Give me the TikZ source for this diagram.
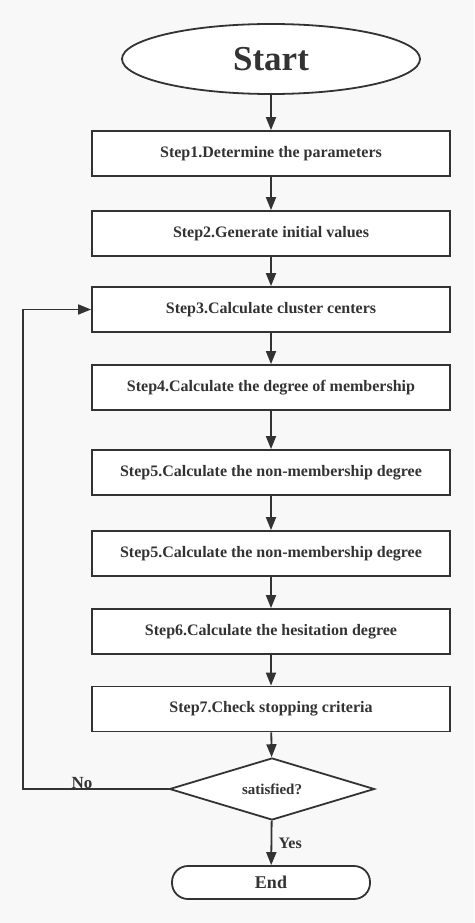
\documentclass[tikz,border=0pt]{standalone}
\usepackage{fontspec}
\setmainfont{Liberation Serif}
\usetikzlibrary{shapes.geometric,arrows.meta}
\definecolor{ln}{HTML}{333333}
\definecolor{bg}{HTML}{F8F8F8}
\begin{document}
\begin{tikzpicture}[x=1pt,y=-1pt,
  stepbox/.style={draw=ln,line width=1.8pt,fill=white,minimum width=358pt,minimum height=45pt,inner sep=0pt,font=\bfseries\fontsize{16}{18}\selectfont,text=ln},
  arr/.style={draw=ln,line width=1.8pt,-{Triangle[width=10pt,length=13pt]}},
  lbl/.style={font=\bfseries\fontsize{16}{18}\selectfont,text=ln}]
\fill[bg] (0,0) rectangle (474,923);
\useasboundingbox (0,0) rectangle (474,923);
\node[ellipse,draw=ln,line width=1.8pt,fill=white,minimum width=298pt,minimum height=70pt,inner sep=0pt,font=\bfseries\fontsize{35}{40}\selectfont,text=ln] (start) at (271,59) {Start};
\node[stepbox] (s1) at (271,153.5) {Step1.Determine the parameters};
\node[stepbox] (s2) at (271,233.5) {Step2.Generate initial values};
\node[stepbox] (s3) at (271,309.5) {Step3.Calculate cluster centers};
\node[stepbox] (s4) at (271,387.5) {Step4.Calculate the degree of membership};
\node[stepbox] (s5) at (271,472.5) {Step5.Calculate the non-membership degree};
\node[stepbox] (s5b) at (271,553.5) {Step5.Calculate the non-membership degree};
\node[stepbox] (s6) at (271,631.5) {Step6.Calculate the hesitation degree};
\node[stepbox] (s7) at (271,709) {Step7.Check stopping criteria};
\node[diamond,draw=ln,line width=1.8pt,fill=white,minimum width=205pt,minimum height=62pt,inner sep=0pt,aspect=3.3,font=\bfseries\fontsize{15}{17}\selectfont,text=ln] (d) at (272,789) {satisfied?};
\node[rounded corners=16pt,draw=ln,line width=1.8pt,fill=white,minimum width=198pt,minimum height=33pt,inner sep=0pt,font=\bfseries\fontsize{18}{20}\selectfont,text=ln] (e) at (271,882.5) {End};
\draw[arr] (start) -- (s1);
\draw[arr] (s1) -- (s2);
\draw[arr] (s2) -- (s3);
\draw[arr] (s3) -- (s4);
\draw[arr] (s4) -- (s5);
\draw[arr] (s5) -- (s5b);
\draw[arr] (s5b) -- (s6);
\draw[arr] (s6) -- (s7);
\draw[arr] (s7) -- (d);
\draw[arr] (d) -- (e) node[lbl,midway,right,xshift=3pt] {Yes};
\coordinate (c1) at (23,789);
\coordinate (c2) at (23,309.5);
\draw[arr] (d.west) -- (c1) -- (c2) -- (s3.west);
\node[lbl,anchor=south,font=\bfseries\fontsize{17}{19}\selectfont] (no) at (82,792) {No};
\end{tikzpicture}
\end{document}
